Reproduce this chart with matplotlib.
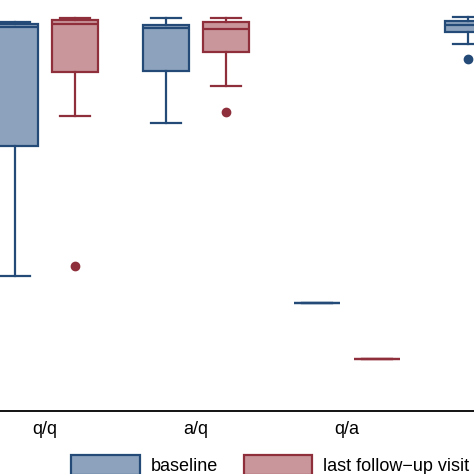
import matplotlib
matplotlib.use("Agg")
import matplotlib.pyplot as plt
from matplotlib.patches import Patch

plt.rcParams['font.family'] = ['Liberation Sans', 'DejaVu Sans']

# categories and box statistics (arbitrary score units)
categories = ['q/q', 'a/q', 'q/a', 'a/a']
series = ['baseline', 'last follow\u2212up visit']

# per category: whislo, q1, med, q3, whishi
baseline_lo = [32.8, 70.1, 26.3, 89.3]
baseline_q1 = [64.5, 82.7, 26.3, 92.2]
baseline_med = [93.4, 93.2, 26.3, 93.9]
baseline_q3 = [94.2, 93.9, 26.3, 94.9]
baseline_hi = [94.6, 95.6, 26.3, 95.9]
baseline_fliers = [[], [], [], [85.6]]

followup_lo = [71.8, 79.1, 12.7, 90.0]
followup_q1 = [82.5, 87.3, 12.7, 92.5]
followup_med = [94.2, 92.9, 12.7, 94.0]
followup_q3 = [95.1, 94.6, 12.7, 95.0]
followup_hi = [95.5, 95.6, 12.7, 95.9]
followup_fliers = [[35.3], [72.7], [], []]

blue_edge = '#244a77'
blue_fill = '#8da3bd'
red_edge = '#8e2f3b'
red_fill = '#c9969c'


def make_stats(lo, q1, med, q3, hi, fl):
    out = []
    for i in range(len(lo)):
        out.append(dict(whislo=lo[i], q1=q1[i], med=med[i], q3=q3[i],
                        whishi=hi[i], fliers=fl[i]))
    return out


fig = plt.figure(figsize=(4.74, 4.74), dpi=100)
ax = fig.add_axes([0, 63 / 474, 1, 411 / 474])

pos = list(range(1, len(categories) + 1))
for stats, off, ec, fc in [
    (make_stats(baseline_lo, baseline_q1, baseline_med, baseline_q3,
                baseline_hi, baseline_fliers), -0.2, blue_edge, blue_fill),
    (make_stats(followup_lo, followup_q1, followup_med, followup_q3,
                followup_hi, followup_fliers), 0.2, red_edge, red_fill),
]:
    ax.bxp(stats, positions=[p + off for p in pos], widths=0.305,
           capwidths=0.2, patch_artist=True, manage_ticks=False,
           boxprops=dict(facecolor=fc, edgecolor=ec, linewidth=1.6),
           medianprops=dict(color=ec, linewidth=1.6),
           whiskerprops=dict(color=ec, linewidth=1.6),
           capprops=dict(color=ec, linewidth=1.6),
           flierprops=dict(marker='o', markerfacecolor=ec, markeredgecolor=ec,
                           markersize=6))

ax.set_xticks(pos)
ax.set_xticklabels(categories, fontsize=13)
ax.set_xlim(1 - 45 / 151, 1 + 429 / 151)
ax.set_ylim(0, 100)
ax.tick_params(axis='x', length=0, pad=7)
ax.set_yticks([])
for s in ['top', 'left', 'right']:
    ax.spines[s].set_visible(False)
ax.spines['bottom'].set_linewidth(1.3)

handles = [Patch(facecolor=blue_fill, edgecolor=blue_edge, linewidth=1.6),
           Patch(facecolor=red_fill, edgecolor=red_edge, linewidth=1.6)]
fig.legend(handles, series, loc='upper left', bbox_to_anchor=(71 / 474, 1 - 455 / 474),
           ncol=2, frameon=False, fontsize=13, borderpad=0, borderaxespad=0,
           handlelength=3.8, handleheight=1.3, handletextpad=0.6,
           columnspacing=1.45)

fig.savefig('out.png', dpi=100)
